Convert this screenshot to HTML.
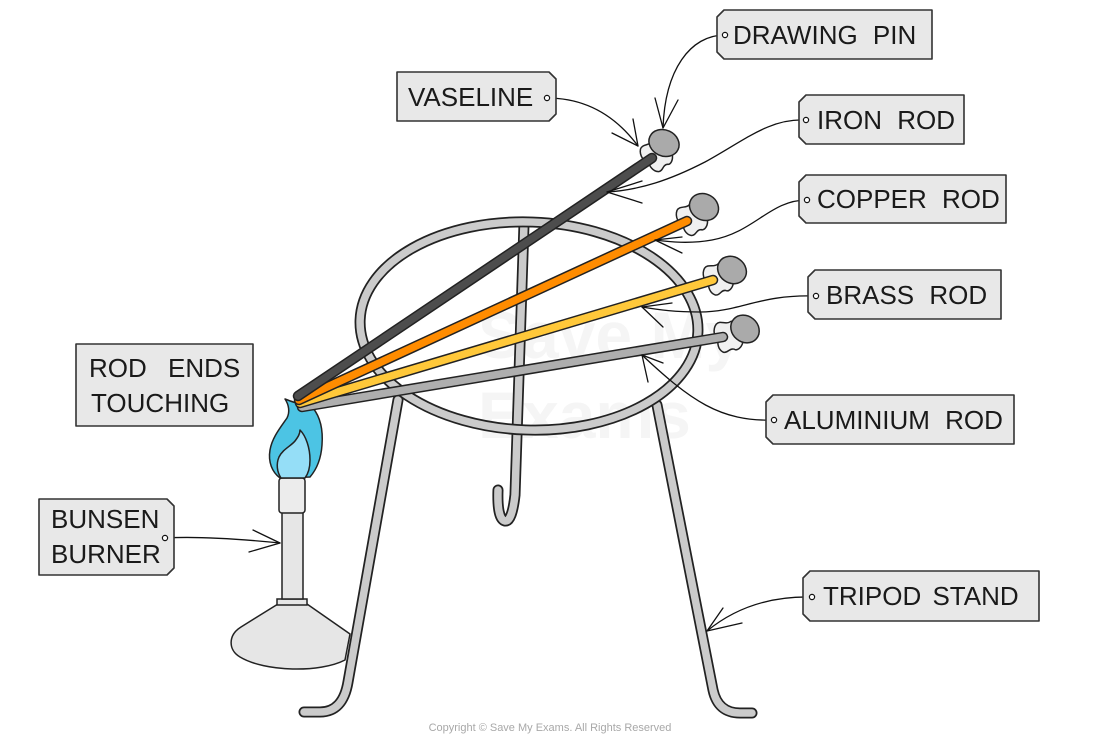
<!DOCTYPE html>
<html><head><meta charset="utf-8"><style>
html,body{margin:0;padding:0;background:#fff;}
svg{display:block;}
text{font-family:"Liberation Sans",sans-serif;}
</style></head><body>
<svg width="1100" height="740" viewBox="0 0 1100 740" xmlns="http://www.w3.org/2000/svg">
<rect width="1100" height="740" fill="#fff"/>
<!-- watermark -->
<g fill="#f5f5f5" font-weight="bold" font-size="66">
<text x="478" y="358" font-family="Liberation Sans, sans-serif">Save My</text>
<text x="478" y="438" font-family="Liberation Sans, sans-serif">Exams</text>
</g>

<!-- rear leg -->
<path d="M524 224 L515 495 Q512 522 505 521 Q497 519 498 490" fill="none" stroke="#222" stroke-width="11" stroke-linecap="round" stroke-linejoin="round"/>
<path d="M524 224 L515 495 Q512 522 505 521 Q497 519 498 490" fill="none" stroke="#cbcbcb" stroke-width="7.5" stroke-linecap="round" stroke-linejoin="round"/>

<!-- burner -->
<path d="M278 604 L241 627 C228 635 228 650 240 657 C265 672 320 673 345 660 L350 634 L307 604 Z" fill="#e6e6e6" stroke="#222" stroke-width="1.5"/>
<rect x="277" y="599" width="30" height="6" fill="#e6e6e6" stroke="#222" stroke-width="1.5"/>
<rect x="282" y="512" width="21" height="87" fill="#e6e6e6" stroke="#222" stroke-width="1.5"/>
<rect x="279" y="478" width="26" height="35" rx="3" fill="#ececec" stroke="#222" stroke-width="1.5"/>

<!-- left & right legs -->
<g fill="none" stroke-linecap="round" stroke-linejoin="round">
<path d="M398 400 L348 682 Q343 712 320 712 L304 712" stroke="#222" stroke-width="11"/>
<path d="M398 400 L348 682 Q343 712 320 712 L304 712" stroke="#cbcbcb" stroke-width="7.5"/>
<path d="M657 405 L713 690 Q718 713 740 713 L752 713" stroke="#222" stroke-width="11"/>
<path d="M657 405 L713 690 Q718 713 740 713 L752 713" stroke="#cbcbcb" stroke-width="7.5"/>
</g>

<!-- ring -->
<g transform="rotate(2 529 326)">
<ellipse cx="529" cy="326" rx="169" ry="104" fill="none" stroke="#222" stroke-width="11"/>
<ellipse cx="529" cy="326" rx="169" ry="104" fill="none" stroke="#cbcbcb" stroke-width="7.5"/>
</g>

<!-- flame -->
<path d="M285 399 C292 402 300 404 313 408 C321 418 323 432 322 445 C321 460 316 470 310 477 L280 478 C272 472 268 462 270 450 C272 438 280 428 287 418 C290 412 289 405 285 399 Z" fill="#4cc4e4" stroke="#222" stroke-width="1.5" stroke-linejoin="round"/>
<path d="M300 430 C306 436 310 448 310 460 C310 468 308 474 305 478 L281 478 C277 472 276 464 279 457 C283 449 291 446 295 441 C298 437 300 434 300 430 Z" fill="#95def7" stroke="#222" stroke-width="1.5" stroke-linejoin="round"/>

<!-- vaseline blobs -->
<g fill="#f0f0f0" stroke="#222" stroke-width="1.3" stroke-linejoin="round">
<path transform="translate(652 158) rotate(-34) scale(1.15)" d="M-4 -12 C0 -15 4 -10 8 -12 C12 -14 15 -8 16 -6 L16 8 C14 12 10 14 8 12 C4 10 2 15 -2 13 C-6 10 -6 4 -4 2 C-8 0 -8 -8 -4 -12 Z"/>
<path transform="translate(687 221) rotate(-25) scale(1.15)" d="M-4 -12 C0 -15 4 -10 8 -12 C12 -14 15 -8 16 -6 L16 8 C14 12 10 14 8 12 C4 10 2 15 -2 13 C-6 10 -6 4 -4 2 C-8 0 -8 -8 -4 -12 Z"/>
<path transform="translate(713 280) rotate(-17) scale(1.15)" d="M-4 -12 C0 -15 4 -10 8 -12 C12 -14 15 -8 16 -6 L16 8 C14 12 10 14 8 12 C4 10 2 15 -2 13 C-6 10 -6 4 -4 2 C-8 0 -8 -8 -4 -12 Z"/>
<path transform="translate(723 337) rotate(-9) scale(1.15)" d="M-4 -12 C0 -15 4 -10 8 -12 C12 -14 15 -8 16 -6 L16 8 C14 12 10 14 8 12 C4 10 2 15 -2 13 C-6 10 -6 4 -4 2 C-8 0 -8 -8 -4 -12 Z"/>
</g>

<!-- rods -->
<g stroke-linecap="round" fill="none">
<line x1="302" y1="407" x2="723" y2="337" stroke="#222" stroke-width="10.5"/>
<line x1="302" y1="407" x2="723" y2="337" stroke="#aeaeae" stroke-width="7.5"/>
<line x1="300" y1="403" x2="713" y2="280" stroke="#222" stroke-width="10.5"/>
<line x1="300" y1="403" x2="713" y2="280" stroke="#ffc83a" stroke-width="7.5"/>
<line x1="299" y1="400" x2="687" y2="221" stroke="#222" stroke-width="10.5"/>
<line x1="299" y1="400" x2="687" y2="221" stroke="#ff8c00" stroke-width="7.5"/>
<line x1="298" y1="396" x2="652" y2="158" stroke="#222" stroke-width="10.5"/>
<line x1="298" y1="396" x2="652" y2="158" stroke="#4d4d4d" stroke-width="7.5"/>
</g>

<!-- pin heads -->
<g fill="#aaaaaa" stroke="#222" stroke-width="1.5">
<ellipse cx="664" cy="143" rx="15.5" ry="13" transform="rotate(25 664 143)"/>
<ellipse cx="704" cy="207" rx="15" ry="13" transform="rotate(30 704 207)"/>
<ellipse cx="732" cy="270" rx="15" ry="13" transform="rotate(35 732 270)"/>
<ellipse cx="745" cy="329" rx="15" ry="13" transform="rotate(40 745 329)"/>
</g>

<!-- connectors -->
<g fill="none" stroke="#111" stroke-width="1.3" stroke-linecap="round" stroke-linejoin="round">
<path d="M547 98 C585 98 615 115 638 146"/><path d="M633 119 L638 146 L612 133"/>
<path d="M725 35 C690 35 665 70 663 128"/><path d="M655 98 L663 128 L678 100"/>
<path d="M806 120 C770 118 745 140 705 162 C670 180 640 190 607 192"/><path d="M642 181 L607 192 L642 203"/>
<path d="M807 200 C770 200 755 232 712 240 C690 244 670 242 655 240"/><path d="M682 237 L655 240 L682 253"/>
<path d="M816 296 C760 294 740 312 700 312 C675 312 660 310 642 307"/><path d="M672 303 L642 307 L663 327"/>
<path d="M774 420 C720 422 690 400 642 355"/><path d="M663 363 L642 355 L648 382"/>
<path d="M812 597 C770 596 735 608 707 631"/><path d="M723 608 L707 631 L742 623"/>
<path d="M165 538 C200 536 240 539 280 543"/><path d="M253 530 L280 543 L249 552"/>
</g>

<!-- labels -->
<g fill="#e8e8e8" stroke="#333" stroke-width="1.6" stroke-linejoin="round">
<path d="M724 10 L932 10 L932 59 L724 59 L717 52 L717 17 Z"/>
<path d="M806 95 L964 95 L964 144 L806 144 L799 137 L799 102 Z"/>
<path d="M397 72 L549 72 L556 79 L556 114 L549 121 L397 121 Z"/>
<path d="M806 175 L1006 175 L1006 223 L806 223 L799 216 L799 182 Z"/>
<path d="M815 270 L1001 270 L1001 319 L815 319 L808 312 L808 277 Z"/>
<path d="M773 395 L1014 395 L1014 444 L773 444 L766 437 L766 402 Z"/>
<path d="M810 571 L1039 571 L1039 621 L810 621 L803 614 L803 578 Z"/>
<path d="M39 499 L167 499 L174 506 L174 568 L167 575 L39 575 Z"/>
<rect x="76" y="344" width="177" height="82"/>
</g>
<g fill="#fff" stroke="#111" stroke-width="1.2">
<circle cx="725" cy="35" r="2.6"/>
<circle cx="806" cy="120" r="2.6"/>
<circle cx="547" cy="98" r="2.6"/>
<circle cx="807" cy="200" r="2.6"/>
<circle cx="816" cy="296" r="2.6"/>
<circle cx="774" cy="420" r="2.6"/>
<circle cx="812" cy="597" r="2.6"/>
<circle cx="165" cy="538" r="2.6"/>
</g>
<g fill="#1a1a1a" font-size="26" word-spacing="8">
<text x="733" y="44">DRAWING PIN</text>
<text x="817" y="129">IRON ROD</text>
<text x="408" y="106">VASELINE</text>
<text x="817" y="208">COPPER ROD</text>
<text x="826" y="304">BRASS ROD</text>
<text x="784" y="429">ALUMINIUM ROD</text>
<text x="823" y="605" word-spacing="4">TRIPOD STAND</text>
<text x="89" y="377" word-spacing="14">ROD ENDS</text>
<text x="91" y="412">TOUCHING</text>
<text x="51" y="528">BUNSEN</text>
<text x="51" y="563">BURNER</text>
</g>
<text x="550" y="731" text-anchor="middle" font-size="11" fill="#a8a8a8">Copyright © Save My Exams. All Rights Reserved</text>
</svg>
</body></html>
